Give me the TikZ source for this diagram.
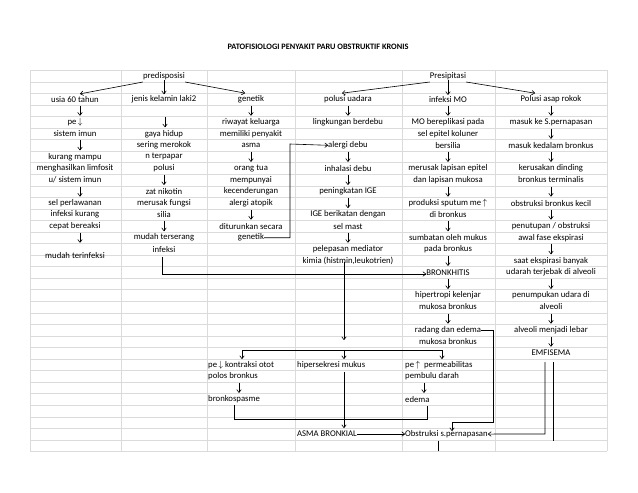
\documentclass[tikz,border=0pt]{standalone}
\usepackage{fontspec}
\setmainfont{Carlito}
\usetikzlibrary{arrows.meta}
\newcommand\RY[1]{{76+(#1-1)*11.55}}
\tikzset{txt/.style={inner sep=0pt,font=\fontsize{8.7}{9}\selectfont},
 lt/.style={txt,anchor=west},
 arr/.style={-{To[length=3.5pt,width=5pt]},line width=0.6pt},
 ln/.style={line width=0.6pt}}
\newcommand\myT[4]{\node[txt] (#1) at (#2,\RY{#3}) {#4};}
\newcommand\myL[4]{\node[lt] (#1) at (#2,\RY{#3}) {#4};}
\newcommand\myD[2]{\draw[arr] (#1,{76+(#2-1)*11.55-5}) -- (#1,{76+(#2-1)*11.55+5});}
\begin{document}
\begin{tikzpicture}[x=1pt,y=-1pt]
\useasboundingbox (0,0) rectangle (638,493);
\fill[white] (0,0) rectangle (638,493);
% grid
\foreach \k in {0,...,33}{\draw[black!14,line width=0.4pt] (30,{70.2+\k*11.55}) -- (607,{70.2+\k*11.55});}
\foreach \x in {30,121,207,295,402,495,607}{\draw[black!14,line width=0.4pt] (\x,70.2) -- (\x,{70.2+33*11.55});}
\node[txt,font=\fontsize{8.3}{9}\selectfont\bfseries] (title) at (318,47) {PATOFISIOLOGI PENYAKIT PARU OBSTRUKTIF KRONIS};
\def\a{75}\def\b{164}\def\c{251}\def\d{348}\def\e{448}\def\f{551}
% row1
\myT{pre}{\b}{1}{predisposisi}
\myT{pres}{\e}{1}{Presipitasi}
\myT{usia}{\a}{3}{usia 60 tahun}
\myT{jk}{\b}{3}{jenis kelamin laki2}
\myT{gen}{\c}{3}{genetik}
\myT{pol}{\d}{3}{polusi uadara}
\myT{inf}{\e}{3}{infeksi MO}
\myT{asap}{\f}{3}{Polusi asap rokok}
\draw[arr] (pre.west |- 0,82) -- ([yshift=2pt]usia.north -| 80,0);
\draw[arr] (pre.south) -- ([yshift=1pt]jk.north);
\draw[arr] (pre.east |- 0,82) -- ([yshift=2pt]gen.north -| 245,0);
\draw[arr] (pres.west |- 0,82) -- ([yshift=2pt]pol.north -| 342,0);
\draw[arr] (pres.south) -- ([yshift=1pt]inf.north);
\draw[arr] (pres.east |- 0,82) -- ([yshift=2pt]asap.north -| 535,0);
\foreach \x in {80,\c,\d,\e,\f}{\myD{\x}{4}}
% row5
\myT{r5a}{\a}{5}{pe\,$\downarrow$}
\myD{165}{5}
\myT{r5c}{\c}{5}{riwayat keluarga}
\myT{r5d}{\d}{5}{lingkungan berdebu}
\myT{r5e}{\e}{5}{MO bereplikasi pada}
\myT{r5f}{\f}{5}{masuk ke S.pernapasan}
\myT{r6a}{\a}{6}{sistem imun}
\myT{r6b}{\b}{6}{gaya hidup}
\myT{r6c}{\c}{6}{memiliki penyakit}
\myT{r6e}{\e}{6}{sel epitel koluner}
\myD{\f}{6}
\myD{80}{7}
\myT{r7b}{\b}{7}{sering merokok}
\myT{r7c}{\c}{7}{asma}
\myT{alergi}{\d}{7}{alergi debu}
\myT{r7e}{\e}{7}{bersilia}
\myT{r7f}{\f}{7}{masuk kedalam bronkus}
\myT{r8a}{\a}{8}{kurang mampu}
\myT{r8b}{\b}{8}{n terpapar}
\foreach \x in {\c,\d,\e,\f}{\myD{\x}{8}}
\myT{r9a}{\a}{9}{menghasilkan limfosit}
\myT{r9b}{\b}{9}{polusi}
\myT{r9c}{\c}{9}{orang tua}
\myT{r9d}{\d}{9}{inhalasi debu}
\myT{r9e}{\e}{9}{merusak lapisan epitel}
\myT{r9f}{\f}{9}{kerusakan dinding}
\myT{r10a}{\a}{10}{u/ sistem imun}
\myD{\b}{10}
\myT{r10c}{\c}{10}{mempunyai}
\myD{\d}{10}
\myT{r10e}{\e}{10}{dan lapisan mukosa}
\myT{r10f}{\f}{10}{bronkus terminalis}
\myD{80}{11}
\myT{r11b}{\b}{11}{zat nikotin}
\myT{r11c}{\c}{11}{kecenderungan}
\myT{r11d}{\d}{11}{peningkatan IGE}
\myD{\e}{11}\myD{\f}{11}
\myT{r12a}{\a}{12}{sel perlawanan}
\myT{r12b}{\b}{12}{merusak fungsi}
\myT{r12c}{\c}{12}{alergi atopik}
\myD{\d}{12}
\myT{r12e}{\e}{12}{produksi sputum me\,$\uparrow$}
\myT{r12f}{\f}{12}{obstruksi bronkus kecil}
\myT{r13a}{\a}{13}{infeksi kurang}
\myT{r13b}{\b}{13}{silia}
\myD{\c}{13}
\myT{r13d}{\d}{13}{IGE berikatan dengan}
\myT{r13e}{\e}{13}{di bronkus}
\myD{\f}{13}
\myT{r14a}{\a}{14}{cepat bereaksi}
\myD{\b}{14}
\myT{r14c}{\c}{14}{diturunkan secara}
\myT{r14d}{\d}{14}{sel mast}
\myD{\e}{14}
\myT{r14f}{\f}{14}{penutupan / obstruksi}
\myD{80}{15}
\myT{r15b}{\b}{15}{mudah terserang}
\myT{gen2}{\c}{15}{genetik}
\myD{\d}{15}
\myT{r15e}{\e}{15}{sumbatan oleh mukus}
\myT{r15f}{\f}{15}{awal fase ekspirasi}
\myT{mudah}{\a}{16.5}{mudah terinfeksi}
\myT{infeksi}{\b}{16}{infeksi}
\myT{r16d}{\d}{16}{pelepasan mediator}
\myT{r16e}{\e}{16}{pada bronkus}
\myD{\f}{16}
\myT{kimia}{\d}{17}{kimia (histmin,leukotrien)}
\myD{\e}{17}
\myT{r17f}{\f}{17}{saat ekspirasi banyak}
\myT{bronk}{\e}{18}{BRONKHITIS}
\myT{r18f}{\f}{18}{udarah terjebak di alveoli}
\myD{\e}{19}\myD{\f}{19}
\myT{r20e}{\e}{20}{hipertropi kelenjar}
\myT{r20f}{\f}{20}{penumpukan udara di}
\myT{r21e}{\e}{21}{mukosa bronkus}
\myT{r21f}{\f}{21}{alveoli}
\myD{\e}{22}\myD{\f}{22}
\myT{radang}{\e}{23}{radang dan edema}
\myT{r23f}{\f}{23}{alveoli menjadi lebar}
\myT{r24e}{\e}{24}{mukosa bronkus}
\myD{\f}{24}
\myT{emf}{\f}{25}{EMFISEMA}
\myL{kontr}{208}{26}{pe\,$\downarrow$ kontraksi otot}
\myL{hiper}{297}{26}{hipersekresi mukus}
\myL{perm}{405}{26}{pe\,$\uparrow$\ \ permeabilitas}
\myL{polos}{208}{27}{polos bronkus}
\myL{pemb}{405}{27}{pembulu darah}
\myD{239}{28}\myD{424}{28}
\myL{spasme}{208}{29}{bronkospasme}
\myL{edema}{405}{29}{edema}
\myL{asma}{297}{32}{ASMA BRONKIAL}
\myL{obs}{405}{32}{Obstruksi s.pernapasan}
% connectors
\draw[ln,arr] (gen2.east) -- (290,\RY{15}) -- (290,144) -- (alergi.west);
\draw[ln,arr] (162,257) -- (162,274) -- (bronk.west |- 0,274);
\draw[ln,arr] (344,262) -- (344,340);
\draw[ln] (242,350) -- (442,350);
\foreach \x in {242,344,442}{\draw[arr] (\x,350) -- (\x,359);}
\draw[ln,arr] (344,372) -- (344,428);
\draw[ln] (234,405) -- (234,419) -- (427,419) -- (427,406);
\draw[ln,arr] (radang.east) -- (493,\RY{23}) -- (493,422) -- (452,422) -- (452,431);
\draw[arr] (asma.east) -- (obs.west);
\draw[ln,arr] (545,362) -- (545,434) -- (obs.east);
\draw[ln] (553,362) -- (553,441);
\draw[ln] (438,441) -- (438,451);
\end{tikzpicture}
\end{document}
